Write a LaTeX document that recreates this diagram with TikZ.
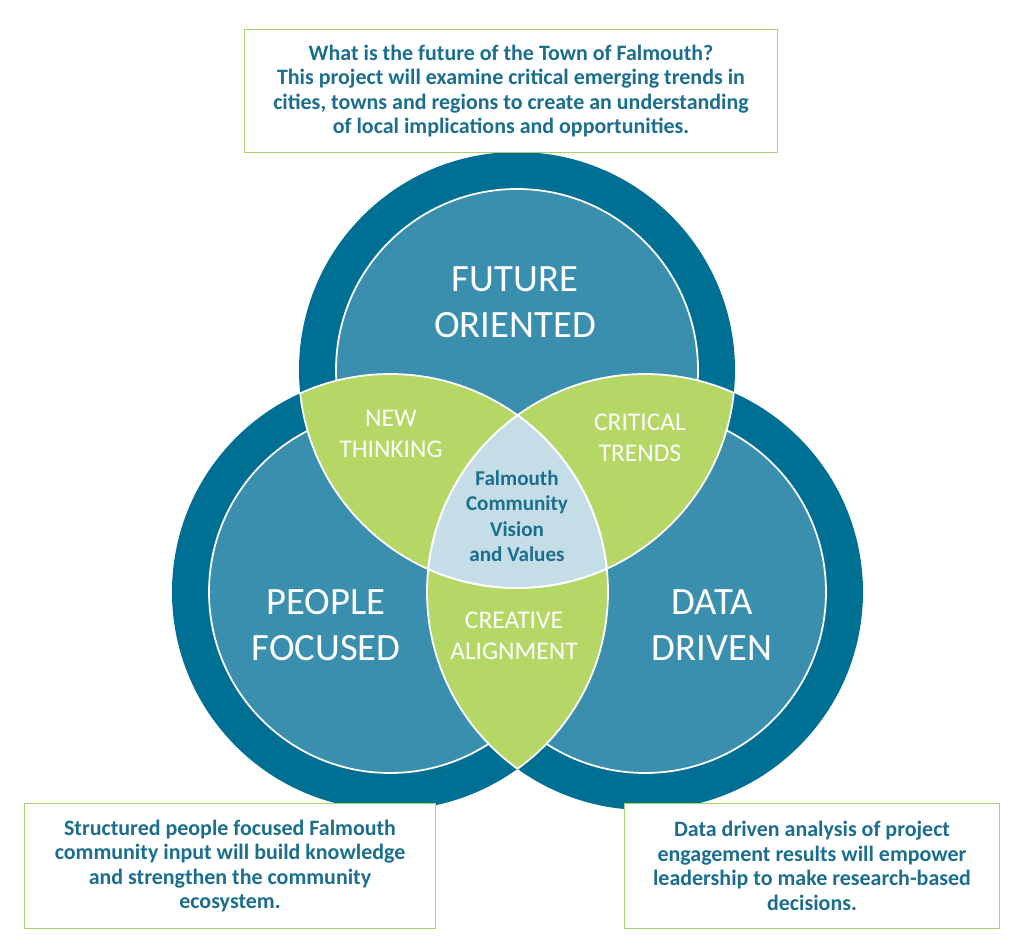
\documentclass[tikz,border=0pt]{standalone}
\usepackage{fontspec}
\setmainfont{Carlito}
\definecolor{ring}{HTML}{006F94}
\definecolor{disc}{HTML}{3A8FAE}
\definecolor{lens}{HTML}{B5D765}
\definecolor{core}{HTML}{C5DDE6}
\definecolor{txt}{HTML}{1B6E8E}
\definecolor{frame}{HTML}{A9D46A}
\begin{document}
\begin{tikzpicture}[x=0.02cm, y=-0.02cm,
    note/.style={draw=frame, line width=0.8pt, fill=white, text=txt, font=\bfseries\fontsize{12.5}{14}\selectfont,
                 align=center, inner sep=0pt},
    big/.style={text=white, font=\fontsize{22}{26}\selectfont, align=center},
    mid/.style={text=white, font=\fontsize{14.5}{18}\selectfont, align=center},
  ]
    \useasboundingbox (0,0) rectangle (1024,945);
    % Circle centres
    \coordinate (top)   at (517, 370);
    \coordinate (left)  at (390, 592);
    \coordinate (right) at (645, 592);
    \def\rout{218}
    \def\rin{181}

    % Outer rings and inner discs
    \foreach \c in {top, left, right}
      \fill[ring] (\c) circle (\rout);
    \foreach \c in {top, left, right}
      \draw[white, fill=disc, line width=1pt] (\c) circle (\rin);

    % Pairwise lenses
    \begin{scope}
      \clip (top) circle (\rout);
      \fill[lens] (left) circle (\rout);
      \fill[lens] (right) circle (\rout);
    \end{scope}
    \begin{scope}
      \clip (left) circle (\rout);
      \fill[lens] (right) circle (\rout);
    \end{scope}
    % Centre
    \begin{scope}
      \clip (top) circle (\rout);
      \clip (left) circle (\rout);
      \fill[core] (right) circle (\rout);
    \end{scope}
    % Lens edges
    \begin{scope}
      \clip (top) circle (\rout);
      \draw[white, line width=1pt] (left) circle (\rout) (right) circle (\rout);
    \end{scope}
    \begin{scope}
      \clip (left) circle (\rout);
      \draw[white, line width=1pt] (right) circle (\rout) (top) circle (\rout);
    \end{scope}
    \begin{scope}
      \clip (right) circle (\rout);
      \draw[white, line width=1pt] (left) circle (\rout) (top) circle (\rout);
    \end{scope}

    % Labels
    \node[big] (fo) at (515, 302) {FUTURE\\ORIENTED};
    \node[big] (pf) at (326, 625) {PEOPLE\\FOCUSED};
    \node[big] (dd) at (712, 625) {DATA\\DRIVEN};
    \node[mid] (nt) at (391, 434) {NEW\\THINKING};
    \node[mid] (ct) at (640, 438) {CRITICAL\\TRENDS};
    \node[mid] (ca) at (514, 636) {CREATIVE\\ALIGNMENT};
    \node[text=txt, font=\bfseries\fontsize{12}{14.5}\selectfont, align=center] (fv) at (517, 516)
      {Falmouth\\Community\\Vision\\and Values};

    % Notes
    \node[note, minimum width=533*0.02cm, minimum height=123*0.02cm] (qn) at (511, 91)
      {What is the future of the Town of Falmouth?\\This project will examine critical emerging trends in\\cities, towns and regions to create an understanding\\of local implications and opportunities.};
    \node[note, minimum width=411*0.02cm, minimum height=125*0.02cm] (pn) at (230, 866)
      {Structured people focused Falmouth\\community input will build knowledge\\and strengthen the community\\ecosystem.};
    \node[note, minimum width=375*0.02cm, minimum height=125*0.02cm] (dn) at (812, 866)
      {Data driven analysis of project\\engagement results will empower\\leadership to make research-based\\decisions.};
  \end{tikzpicture}
\end{document}
